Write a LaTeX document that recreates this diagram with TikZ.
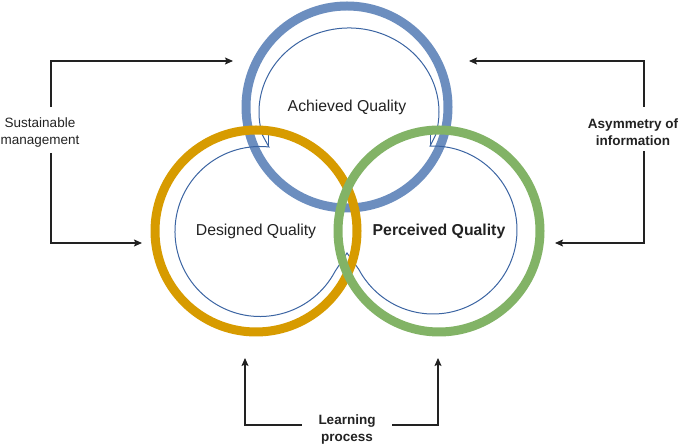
\documentclass[tikz,border=0pt]{standalone}
\usepackage{fontspec}
\setmainfont{Liberation Sans}
\usetikzlibrary{arrows.meta}

\definecolor{achblue}{HTML}{6C8EBF}
\definecolor{desorange}{HTML}{D79B00}
\definecolor{pergreen}{HTML}{82B366}
\definecolor{thinblue}{HTML}{3B64A2}
\definecolor{txt}{HTML}{222222}

\begin{document}
\begin{tikzpicture}[x=1pt,y=1pt,>={Stealth[length=8pt,width=7pt,inset=1.5pt]},
 every node/.style={text=txt},
 ring/.style={circle,line width=9pt,minimum size=202pt,inner sep=0pt,font=\fontsize{15.8}{19}\selectfont},
 thin/.style={thinblue,line width=1pt},
 lab/.style={align=center,font=\fontsize{13.5}{17}\selectfont},
 labb/.style={lab,font=\fontsize{13.5}{17}\selectfont\bfseries},
 arr/.style={->,txt,line width=1.1pt}]
\useasboundingbox (0,0) rectangle (685,446);
% quality rings
\node[ring,draw=achblue] (ach) at (347,339) {Achieved Quality};
\coordinate (cA) at (349,334); \coordinate (cD) at (260,214.5); \coordinate (cP) at (433,216);
\coordinate (spike) at (347,193);
\fill[white] (262.5,310.8) -- (268.9,299) -- (268.9,311) -- cycle;
\fill[white] (435.5,310.8) -- (430.1,300) -- (430.1,311) -- cycle;
\draw[thin] ([shift={(196:90 and 84)}]cA) arc[start angle=196,end angle=-16,x radius=90,y radius=84]
 -- ([shift={(92:84)}]cP) arc[start angle=92,end angle=-152,radius=84] -- (spike)
 -- ([shift={(-28:85)}]cD) arc[start angle=-28,end angle=-276,radius=85] -- cycle;
\draw[thin] ([shift={(84:85)}]cD) -- ++(0,12); \draw[thin] ([shift={(92:84)}]cP) -- ++(0,11);
\node[ring,draw=desorange] (des) at (256,215) {Designed Quality};
\node[ring,draw=pergreen,font=\fontsize{15.8}{19}\selectfont\bfseries] (per) at (439,215) {Perceived Quality};
% side labels
\node[lab] (sus) at (40,313.5) {Sustainable\\management};
\node[labb] (asy) at (633,313.5) {Asymmetry of\\information};
\node[labb] (lrn) at (347,16) {Learning\\process};
\coordinate (tipAL) at (233,385); \coordinate (tipDL) at (142,203);
\coordinate (tipAR) at (469,385); \coordinate (tipPR) at (555,203);
\coordinate (tipDB) at (245,88); \coordinate (tipPB) at (438,88);
\draw[arr] ([shift={(11,7)}]sus.north) |- (tipAL);
\draw[arr] ([shift={(11,-2)}]sus.south) |- (tipDL);
\draw[arr] ([shift={(11,9)}]asy.north) |- (tipAR);
\draw[arr] ([shift={(11,-2)}]asy.south) |- (tipPR);
\draw[arr] ([shift={(-13,5)}]lrn.west) -| (tipDB);
\draw[arr] ([shift={(13,5)}]lrn.east) -| (tipPB);
\end{tikzpicture}
\end{document}
